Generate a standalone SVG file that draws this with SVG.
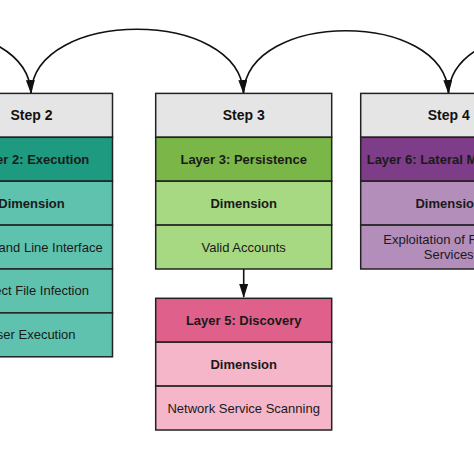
<svg xmlns="http://www.w3.org/2000/svg" width="474" height="474" viewBox="0 0 474 474">
<defs>
<style>
text{font-family:"Liberation Sans",Arial,sans-serif;font-size:13px;fill:#1a1a1a;text-anchor:middle;dominant-baseline:central}
.b{font-weight:bold}
.h{font-size:14px;font-weight:bold;fill:#111}
rect{stroke:#222;stroke-width:1.5}
.hd{fill:#e5e5e5}
.t1{fill:#1e9a80}.t2{fill:#5ec2ae}
.g1{fill:#7ab648}.g2{fill:#a7d982}
.p1{fill:#7d3d88}.p2{fill:#b48ebb}
.k1{fill:#df608a}.k2{fill:#f5b6c9}
.c{fill:none;stroke:#111;stroke-width:1.6}
</style>
<marker id="ah" viewBox="0 0 14 9" refX="13" refY="4.5" markerWidth="14" markerHeight="9" markerUnits="userSpaceOnUse" orient="auto">
<path d="M0,0 L14,4.5 L0,9 z" fill="#111"/>
</marker>
</defs>
<g id="connectors">
<path class="c" d="M-181,93 C-177,8 27,8 31,93" marker-end="url(#ah)"/>
<path class="c" d="M31,93 C35,8 239,8 243.5,93" marker-end="url(#ah)"/>
<path class="c" d="M243.5,93 C248,10 444,10 448.5,93" marker-end="url(#ah)"/>
<path class="c" d="M448.5,93 C453,10 657,10 661,93"/>
<path class="c" d="M243.7,269 L243.7,297" marker-end="url(#ah)"/>
</g>
<g id="step2">
<rect class="hd" x="-50" y="93.4" width="162.5" height="43.9"/>
<rect class="t1" x="-50" y="137.3" width="162.5" height="43.9"/>
<rect class="t2" x="-50" y="181.2" width="162.5" height="43.9"/>
<rect class="t2" x="-50" y="225.1" width="162.5" height="43.9"/>
<rect class="t2" x="-50" y="269" width="162.5" height="43.9"/>
<rect class="t2" x="-50" y="312.9" width="162.5" height="43.9"/>
<text class="h" x="31.5" y="115.3">Step 2</text>
<text class="b" x="31.5" y="159.2">Layer 2: Execution</text>
<text class="b" x="31.5" y="203.1">Dimension</text>
<text x="31.5" y="247">Command Line Interface</text>
<text x="31.5" y="290.9">Object File Infection</text>
<text x="31.5" y="334.8">User Execution</text>
</g>
<g id="step3">
<rect class="hd" x="155.7" y="93.4" width="176" height="43.9"/>
<rect class="g1" x="155.7" y="137.3" width="176" height="43.9"/>
<rect class="g2" x="155.7" y="181.2" width="176" height="43.9"/>
<rect class="g2" x="155.7" y="225.1" width="176" height="43.9"/>
<text class="h" x="243.7" y="115.3">Step 3</text>
<text class="b" x="243.7" y="159.2">Layer 3: Persistence</text>
<text class="b" x="243.7" y="203.1">Dimension</text>
<text x="243.7" y="247">Valid Accounts</text>
</g>
<g id="layer5">
<rect class="k1" x="155.7" y="298.3" width="176" height="43.9"/>
<rect class="k2" x="155.7" y="342.2" width="176" height="43.9"/>
<rect class="k2" x="155.7" y="386.1" width="176" height="43.9"/>
<text class="b" x="243.7" y="320.2">Layer 5: Discovery</text>
<text class="b" x="243.7" y="364.1">Dimension</text>
<text x="243.7" y="408">Network Service Scanning</text>
</g>
<g id="step4">
<rect class="hd" x="360.7" y="93.4" width="176" height="43.9"/>
<rect class="p1" x="360.7" y="137.3" width="176" height="43.9"/>
<rect class="p2" x="360.7" y="181.2" width="176" height="43.9"/>
<rect class="p2" x="360.7" y="225.1" width="176" height="43.9"/>
<text class="h" x="448.7" y="115.3">Step 4</text>
<text class="b" x="448.7" y="159.2">Layer 6: Lateral Movement</text>
<text class="b" x="448.7" y="203.1">Dimension</text>
<text x="448.7" y="239.5">Exploitation of Remote</text>
<text x="448.7" y="254.5">Services</text>
</g>
</svg>
